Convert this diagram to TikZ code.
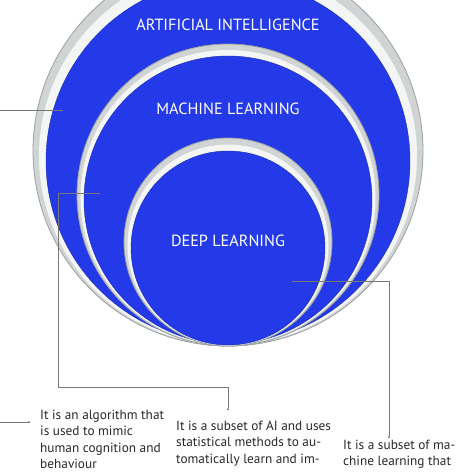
\documentclass[tikz,border=0pt]{standalone}
\usepackage{fontspec}
\setmainfont{PT Sans}
\definecolor{aiblue}{RGB}{36,58,232}
\definecolor{rimgray}{RGB}{208,212,212}
\definecolor{rimedge}{RGB}{155,160,160}
\definecolor{rimwhite}{RGB}{244,246,246}
\definecolor{linkgray}{RGB}{120,120,120}
\definecolor{notegray}{RGB}{40,40,40}

\begin{document}
\begin{tikzpicture}[x=1pt, y=-1pt,
		rim/.style={fill=rimgray, draw=rimedge, line width=0.8pt},
		shine/.style={fill=rimwhite},
		disc/.style={fill=aiblue, draw=aiblue!75!black, line width=0.4pt},
		title/.style={text=white, font=\fontsize{16.2}{16}\selectfont},
		link/.style={draw=linkgray, line width=0.6pt},
		tip/.style={circle, fill=linkgray!70!black, inner sep=0pt, minimum size=2pt},
		note/.style={anchor=north west, align=left, inner sep=0pt, text=notegray, font=\fontsize{13.3}{16.3}\selectfont}]
	\useasboundingbox (0,0) rectangle (474,474);
	\clip (0,0) rectangle (474,474);

	% artificial intelligence
	\draw[rim] (228,151) circle[radius=195pt];
	\fill[shine] (228,156) circle[radius=189pt];
	\draw[disc] (228,161) circle[radius=182pt];
	% machine learning
	\draw[rim] (228,195) circle[radius=151pt];
	\fill[shine] (228,197.5) circle[radius=147.5pt];
	\draw[disc] (228,200) circle[radius=144pt];
	% deep learning
	\draw[rim] (228,242) circle[radius=104pt];
	\fill[shine] (228,245) circle[radius=100.5pt];
	\draw[disc] (228,248) circle[radius=97pt];

	\node[title] (ai) at (228,24.5) {ARTIFICIAL INTELLIGENCE};
	\node[title] (ml) at (228,108.5) {MACHINE LEARNING};
	\node[title] (dl) at (228,241) {DEEP LEARNING};

	\coordinate (aipin) at (63,110);
	\coordinate (mlpin) at (100,193);
	\coordinate (dlpin) at (292,281);

	\node[tip] (aitip) at (29,422) {};
	\node[tip] (mltip) at (228,409) {};
	\node[tip] (dltip) at (389,437) {};

	\node[note] (ainote) at (40,410) {It is an algorithm that\\is used to mimic\\human cognition and\\behaviour};
	\node[note] (mlnote) at (176,421) {It is a subset of AI and uses\\statistical methods to au-\\tomatically learn and im-};
	\node[note] (dlnote) at (343,440) {It is a subset of ma-\\chine learning that};

	\draw[link] (aipin) -- (-8,110) |- (aitip);
	\draw[link] (mlpin) -- (58,193) -- (58,387) -| (mltip);
	\draw[link] (dlpin) -| (dltip);
\end{tikzpicture}
\end{document}
